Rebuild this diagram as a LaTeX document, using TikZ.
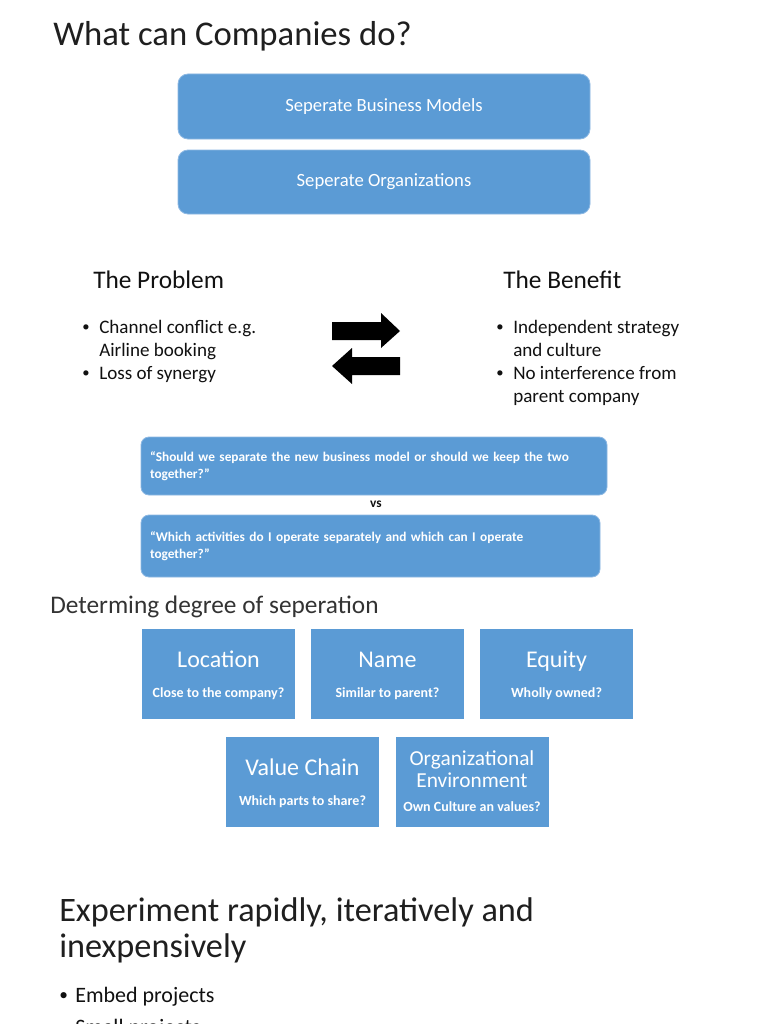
\documentclass[tikz,border=0pt]{standalone}
\usepackage{fontspec}
\setmainfont{Carlito}
\definecolor{boxblue}{HTML}{5B9BD5}
\definecolor{boxedge}{HTML}{8DB8E3}
\definecolor{ink}{HTML}{111111}
\newcommand\fsz[2]{\fontsize{#1pt}{#2pt}\selectfont}
\newcommand\smallbul{{\fsz{11}{12}\raisebox{1.3pt}{•}}}
\begin{document}
\begin{tikzpicture}[x=0.75pt,y=-0.75pt,
  txt/.style={inner sep=0pt, anchor=base west, text=ink},
  ctxt/.style={inner sep=0pt, anchor=base, text=white},
  rbox/.style={rounded corners=7.5pt, fill=boxblue, draw=boxedge, line width=0.6pt, text=white, font=\fsz{14}{17}},
  qbox/.style={rounded corners=6pt, fill=boxblue, draw=boxedge, line width=0.6pt, text=white, font=\bfseries\fsz{10}{12.75}, align=left, inner xsep=6.75pt},
  gbox/.style={fill=boxblue, minimum width=114.75pt, minimum height=67.5pt, inner sep=0pt},
  gtitle/.style={ctxt, font=\fsz{18}{16.5}},
  gsub/.style={ctxt, font=\bfseries\fsz{10.5}{12}},
  arrowshape/.style={fill=black},
  head/.style={txt, text=black!88}
]
\useasboundingbox[fill=white] (0,0) rectangle (768,1024);
\clip (0,0) rectangle (768,1024);

\node[head, font=\fsz{26}{31}] (title) at (53,46) {What can Companies do?};

\node[rbox, minimum width=309pt, minimum height=48.75pt] (sbm) at (384,106.5) {Seperate Business Models};
\node[rbox, minimum width=309pt, minimum height=48pt] (sorg) at (384,182) {Seperate Organizations};

\node[txt, font=\fsz{19}{23}] (prob) at (93,288) {The Problem};
\node[txt, font=\fsz{19}{23}] (ben) at (503,288) {The Benefit};

\node[txt] (pb1) at (82,333) {\smallbul};
\node[txt, font=\fsz{14.3}{17}] (p1a) at (99,333) {Channel conflict e.g.};
\node[txt, font=\fsz{14.3}{17}] (p1b) at (99,356) {Airline booking};
\node[txt] (pb2) at (82,379) {\smallbul};
\node[txt, font=\fsz{14.3}{17}] (p2a) at (99,379) {Loss of synergy};

\node[txt] (bb1) at (496,333) {\smallbul};
\node[txt, font=\fsz{14.3}{17}] (b1a) at (513,333) {Independent strategy};
\node[txt, font=\fsz{14.3}{17}] (b1b) at (513,356) {and culture};
\node[txt] (bb2) at (496,379) {\smallbul};
\node[txt, font=\fsz{14.3}{17}] (b2a) at (513,379) {No interference from};
\node[txt, font=\fsz{14.3}{17}] (b2b) at (513,402) {parent company};

\fill[arrowshape] (332,322) -- (381,322) -- (381,313) -- (400,331) -- (381,348) -- (381,340) -- (332,340) -- cycle;
\fill[arrowshape] (400,357) -- (352,357) -- (352,348) -- (332,366) -- (352,384) -- (352,375) -- (400,375) -- cycle;

\node[qbox, minimum width=349.5pt, minimum height=43.5pt, text width=336pt] (q1) at (374,466) {“Should we separate the new business model or should we keep the two\\together?”};
\node[ctxt, text=ink, font=\bfseries\fsz{10}{12}] (vs) at (376,507) {vs};
\node[qbox, minimum width=344.25pt, minimum height=46.5pt, text width=330.75pt] (q2) at (370.5,546) {“Which activities do I operate separately and which can I operate\\together?”};

\node[txt, font=\fsz{19}{23}, text=black!80] (det) at (50,613) {Determing degree of seperation};

\node[gbox] (loc) at (218.5,674) {};
\node[gtitle] (loct) at (218.5,667) {Location};
\node[gsub] (locs) at (218.5,697) {Close to the company?};

\node[gbox] (nam) at (387.5,674) {};
\node[gtitle] (namt) at (387.5,667) {Name};
\node[gsub] (nams) at (387.5,697) {Similar to parent?};

\node[gbox] (equ) at (556.5,674) {};
\node[gtitle] (equt) at (556.5,667) {Equity};
\node[gsub] (equs) at (556.5,697) {Wholly owned?};

\node[gbox] (val) at (302.5,782) {};
\node[gtitle] (valt) at (302.5,775) {Value Chain};
\node[gsub] (vals) at (302.5,805) {Which parts to share?};

\node[gbox] (org) at (472,782) {};
\node[gtitle, font=\fsz{16}{16}] (orgt1) at (472,765) {Organizational};
\node[gtitle, font=\fsz{16}{16}] (orgt2) at (472,787) {Environment};
\node[gsub] (orgs) at (472,811) {Own Culture an values?};

\node[head, font=\fsz{25.7}{31}] (exp1) at (59,921) {Experiment rapidly, iteratively and};
\node[head, font=\fsz{25.7}{31}] (exp2) at (59,957) {inexpensively};

\node[txt] (eb1) at (59,1002) {{\fsz{13}{14}\raisebox{1.5pt}{•}}};
\node[txt, font=\fsz{16.5}{20}] (e1) at (75,1002) {Embed projects};
\node[txt] (eb2) at (59,1034) {{\fsz{13}{14}\raisebox{1.5pt}{•}}};
\node[txt, font=\fsz{16.5}{20}] (e2) at (75,1034) {Small projects};
\end{tikzpicture}
\end{document}
